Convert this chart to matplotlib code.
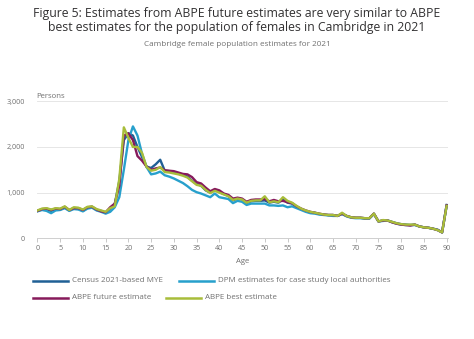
import matplotlib
matplotlib.use("Agg")
import matplotlib.pyplot as plt
from matplotlib.lines import Line2D

ages = list(range(0, 91))

census_mye = [600, 630, 640, 600, 640, 630, 680, 610, 660, 650,
              600, 670, 690, 620, 600, 560, 650, 750, 1250, 2150,
              2300, 2250, 2000, 1780, 1570, 1540, 1620, 1720, 1480, 1470,
              1450, 1420, 1390, 1350, 1260, 1190, 1150, 1050, 1000, 1060,
              1010, 970, 930, 830, 870, 850, 770, 810, 820, 820,
              830, 780, 800, 780, 860, 780, 760, 690, 640, 600,
              570, 560, 530, 520, 510, 510, 490, 540, 490, 460,
              450, 450, 440, 440, 540, 370, 390, 390, 360, 330,
              310, 300, 290, 300, 260, 240, 230, 210, 190, 130, 730]

dpm = [590, 620, 600, 550, 610, 620, 660, 600, 640, 630,
       590, 650, 670, 610, 580, 540, 580, 680, 900, 1500,
       2150, 2450, 2250, 1850, 1560, 1400, 1420, 1460, 1380, 1350,
       1310, 1260, 1210, 1140, 1060, 1010, 980, 940, 900, 980,
       900, 880, 860, 770, 820, 800, 730, 760, 760, 760,
       760, 720, 720, 710, 720, 680, 700, 660, 620, 580,
       550, 540, 520, 510, 500, 490, 490, 530, 480, 450,
       440, 440, 430, 430, 530, 370, 380, 390, 350, 320,
       300, 290, 290, 290, 260, 240, 230, 210, 180, 130, 710]

abpe_future = [600, 640, 650, 620, 650, 640, 690, 620, 660, 660,
               620, 680, 690, 630, 590, 570, 680, 760, 1150, 2250,
               2300, 2150, 1800, 1700, 1570, 1500, 1530, 1550, 1490, 1480,
               1470, 1440, 1410, 1400, 1340, 1230, 1200, 1110, 1030, 1080,
               1050, 980, 950, 870, 890, 870, 800, 840, 850, 850,
               860, 810, 840, 810, 820, 790, 770, 700, 650, 610,
               580, 560, 540, 520, 510, 510, 490, 540, 490, 460,
               450, 450, 440, 440, 540, 370, 390, 390, 350, 320,
               300, 290, 280, 300, 260, 240, 230, 210, 180, 130, 720]

abpe_best = [610, 650, 660, 630, 660, 650, 700, 620, 680, 670,
             630, 690, 700, 640, 610, 580, 660, 700, 1300, 2430,
             2200, 2000, 2000, 1870, 1560, 1480, 1500, 1560, 1450, 1440,
             1420, 1400, 1370, 1330, 1250, 1170, 1150, 1060, 990, 1040,
             1000, 960, 920, 840, 870, 850, 780, 820, 830, 830,
             920, 790, 810, 790, 900, 820, 780, 710, 650, 610,
             580, 560, 540, 520, 510, 510, 490, 560, 490, 460,
             450, 450, 440, 440, 540, 370, 400, 390, 360, 330,
             310, 300, 300, 300, 260, 240, 230, 210, 180, 130, 710]

series_names = ["Census 2021-based MYE",
                "DPM estimates for case study local authorities",
                "ABPE future estimate",
                "ABPE best estimate"]
series_values = [census_mye, dpm, abpe_future, abpe_best]
colors = ["#206095", "#27a0cc", "#871a5b", "#a8bd3a"]

x_ticks = list(range(0, 91, 5))
y_ticks = [0, 1000, 2000, 3000]
y_tick_labels = ["0", "1,000", "2,000", "3,000"]

plt.rcParams['font.family'] = ['Open Sans', 'DejaVu Sans']

W, H = 474, 339
fig = plt.figure(figsize=(W / 100, H / 100), dpi=100)
ax = fig.add_axes([37 / W, 1 - 238.3 / H, (448 - 37) / W, (238.3 - 101.3) / H])

for name, vals, c in zip(series_names, series_values, colors):
    ax.plot(ages, vals, color=c, lw=1.7, solid_joinstyle='round', zorder=3)

ax.set_xlim(-0.1, 90.3)
ax.set_ylim(0, 3000)
ax.set_xticks(x_ticks)
ax.set_yticks(y_ticks)
ax.set_yticklabels(y_tick_labels)
ax.tick_params(axis='x', colors='#bfbfbf', labelcolor='#707070', labelsize=5.2, length=3, width=0.6, pad=2)
ax.tick_params(axis='y', length=0, labelcolor='#707070', labelsize=5.2, pad=8.5)
for lbl in ax.get_yticklabels():
    lbl.set_horizontalalignment('right')
ax.grid(axis='y', color='#e6e6e6', lw=0.7)
ax.set_axisbelow(True)
for s in ['top', 'right', 'left']:
    ax.spines[s].set_visible(False)
ax.spines['bottom'].set_color('#cfcfcf')
ax.spines['bottom'].set_linewidth(0.7)
ax.set_xlabel("Age", fontsize=5.6, color='#707070', labelpad=4)

fig.text(36 / W, 1 - 97 / H, "Persons", fontsize=5.6, color='#707070', ha='left', va='center')

fig.text(0.5, 1 - 13 / H, "Figure 5: Estimates from ABPE future estimates are very similar to ABPE",
         fontsize=8.8, color='#323132', ha='center', va='center')
fig.text(0.5, 1 - 28 / H, "best estimates for the population of females in Cambridge in 2021",
         fontsize=8.8, color='#323132', ha='center', va='center')
fig.text(0.5, 1 - 45 / H, "Cambridge female population estimates for 2021",
         fontsize=5.85, color='#707070', ha='center', va='center')

# legend (flow layout)
legend_pos = [(33, 280.7), (179, 280.7), (33, 297.7), (166, 297.7)]
for (lx, ly), name, c in zip(legend_pos, series_names, colors):
    fig.add_artist(Line2D([lx / W, (lx + 35) / W], [1 - ly / H, 1 - ly / H],
                          color=c, lw=1.8, transform=fig.transFigure))
    fig.text((lx + 39) / W, 1 - ly / H, name, fontsize=5.8, color='#707070',
             ha='left', va='center')

fig.savefig("out.png", dpi=100)
